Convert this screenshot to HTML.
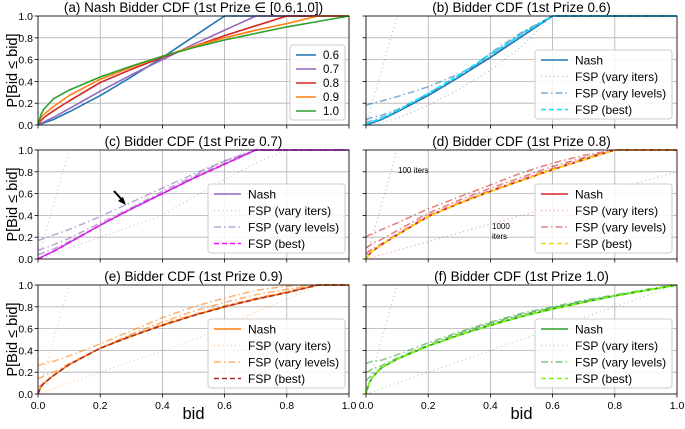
<!DOCTYPE html>
<html><head><meta charset="utf-8"><style>
body{margin:0;background:#fff}
svg{font-family:"Liberation Sans","DejaVu Sans",sans-serif}
</style></head><body>
<svg id="s" width="685" height="424" viewBox="0 0 685 424"></svg>
<script>
const bids=[0,.01,.02,.05,.1,.2,.3,.4,.5,.6,.7,.8,.9,1];
const prizeLabels=["0.6","0.7","0.8","0.9","1.0"];
const nash06=[0,.01,.02,.05,.12,.27,.44,.62,.81,1,1,1,1,1];
const nash07=[0,.015,.03,.07,.15,.31,.46,.60,.74,.87,1,1,1,1];
const nash08=[0,.04,.07,.13,.22,.39,.51,.62,.72,.82,.91,1,1,1];
const nash09=[0,.07,.1,.17,.27,.42,.53,.63,.72,.80,.87,.93,1,1];
const nash10=[0,.1,.15,.24,.32,.44,.54,.63,.71,.78,.84,.90,.95,1];
const itersSteep=[0,.1,.2,.5,1,1,1,1,1,1,1,1,1,1];
const itersB=[0,0,.01,.02,.06,.18,.33,.5,.72,1,1,1,1,1];
const itersC=[0,.01,.02,.05,.1,.2,.3,.4,.57,.73,.88,1,1,1];
const itersD=[0,.008,.016,.04,.08,.16,.24,.32,.4,.48,.56,.64,.72,.8];
const itersE=[0,.01,.02,.05,.1,.2,.3,.39,.5,.62,.75,.87,1,1];
const itersF=[0,.01,.02,.05,.1,.2,.3,.4,.5,.6,.7,.8,.9,1];
const levB1=[.18,.19,.2,.22,.26,.35,.47,.62,.84,1,1,1,1,1];
const levB2=[.05,.06,.07,.09,.14,.28,.44,.66,.85,1,1,1,1,1];
const levB3=[.02,.03,.04,.07,.13,.29,.46,.64,.83,1,1,1,1,1];
const bestB=[0,.02,.03,.06,.13,.29,.46,.65,.83,1,1,1,1,1];
const levC1=[.17,.18,.19,.22,.27,.39,.52,.65,.78,.9,1,1,1,1];
const levC2=[.08,.09,.1,.13,.19,.33,.47,.62,.76,.9,1,1,1,1];
const levC3=[.04,.05,.06,.09,.16,.31,.46,.6,.75,.88,1,1,1,1];
const levD1=[.2,.22,.23,.27,.33,.46,.57,.68,.79,.88,.95,1,1,1];
const levD2=[.1,.12,.14,.18,.26,.42,.54,.65,.75,.85,.93,1,1,1];
const levD3=[.05,.07,.09,.14,.23,.4,.52,.63,.73,.83,.92,1,1,1];
const levE1=[.26,.27,.28,.3,.35,.46,.58,.7,.8,.88,.95,.99,1,1];
const levE2=[.14,.15,.17,.2,.28,.42,.55,.66,.76,.84,.91,.96,1,1];
const levE3=[.06,.08,.11,.17,.27,.42,.54,.64,.73,.81,.88,.94,1,1];
const levF1=[.28,.29,.3,.31,.36,.47,.57,.66,.74,.8,.86,.91,.96,1];
const levF2=[.2,.21,.23,.26,.33,.45,.56,.65,.73,.79,.85,.9,.95,1];
const levF3=[.12,.15,.18,.24,.32,.44,.55,.64,.72,.79,.85,.9,.95,1];
const ticks=[0,.2,.4,.6,.8,1];
const tickLabels=["0.0","0.2","0.4","0.6","0.8","1.0"];

const S=document.getElementById('s');const NS='http://www.w3.org/2000/svg';
function mk(t,a,p){const e=document.createElementNS(NS,t);for(const k in a)e.setAttribute(k,a[k]);(p||S).appendChild(e);return e;}
const cols={b:['#1f77b4','#00e8ff'],c:['#9467bd','#ff00ff'],d:['#d62728','#ffd700'],e:['#ff7f0e','#a52a2a'],f:['#2ca02c','#7cfc00']};
const nashCols=['#1f77b4','#9467bd','#d62728','#ff7f0e','#2ca02c'];
const panels=[
 {id:'a',x0:38,x1:349,y0:16,y1:125,title:'(a) Nash Bidder CDF (1st Prize \u2208 [0.6,1.0])'},
 {id:'b',x0:366,x1:677,y0:16,y1:125,title:'(b) Bidder CDF (1st Prize 0.6)',nash:nash06,it:[itersSteep,itersB],lv:[levB1,levB2,levB3],best:bestB},
 {id:'c',x0:38,x1:349,y0:150,y1:259,title:'(c) Bidder CDF (1st Prize 0.7)',nash:nash07,it:[itersSteep,itersC],lv:[levC1,levC2,levC3],best:nash07},
 {id:'d',x0:366,x1:677,y0:150,y1:259,title:'(d) Bidder CDF (1st Prize 0.8)',nash:nash08,it:[itersSteep,itersD],lv:[levD1,levD2,levD3],best:nash08},
 {id:'e',x0:38,x1:349,y0:285,y1:394,title:'(e) Bidder CDF (1st Prize 0.9)',nash:nash09,it:[itersSteep,itersE],lv:[levE1,levE2,levE3],best:nash09},
 {id:'f',x0:366,x1:677,y0:285,y1:394,title:'(f) Bidder CDF (1st Prize 1.0)',nash:nash10,it:[itersSteep,itersF],lv:[levF1,levF2,levF3],best:nash10}];
panels.forEach((p,pi)=>{
 const g=mk('g',{});
 
 
 const X=v=>p.x0+v*(p.x1-p.x0),Y=v=>p.y1-v*(p.y1-p.y0);
 const left=(pi%2==0),bottom=(pi>=4);
 ticks.forEach((t,i)=>{
  mk('line',{x1:X(t),x2:X(t),y1:p.y0,y2:p.y1,stroke:'#b0b0b0','stroke-width':0.8},g);
  mk('line',{x1:p.x0,x2:p.x1,y1:Y(t),y2:Y(t),stroke:'#b0b0b0','stroke-width':0.8},g);
  mk('line',{x1:p.x0-3.5,x2:p.x0,y1:Y(t),y2:Y(t),stroke:'#000','stroke-width':0.8},g);
  mk('line',{x1:X(t),x2:X(t),y1:p.y1,y2:p.y1+3.5,stroke:'#000','stroke-width':0.8},g);
  if(left){const tl=mk('text',{x:p.x0-5,y:Y(t)+4,'font-size':10.5,'text-anchor':'end'},g);tl.textContent=tickLabels[i];
   }
  if(bottom){const tl=mk('text',{x:X(t),y:p.y1+15,'font-size':10.5,'text-anchor':'middle'},g);tl.textContent=tickLabels[i];
   }
 });
 const path=(arr,c,w,da,op,name)=>{const d=arr.map((v,i)=>(i?'L':'M')+X(bids[i]).toFixed(1)+','+Y(v).toFixed(1)).join('');
  const e=mk('path',{d:d,fill:'none',stroke:c,'stroke-width':w,'stroke-dasharray':da||'none',opacity:op,'stroke-linejoin':'round'},g);
  };
 let legend;
 if(p.id==='a'){
  [nash06,nash07,nash08,nash09,nash10].forEach((s,i)=>path(s,nashCols[i],1.6,null,1,'nash-line-'+prizeLabels[i]));
  legend=prizeLabels.map((l,i)=>[l,nashCols[i],null,1]);
 }else{
  const [nc,bc]=cols[p.id];
  p.it.forEach((s,i)=>path(s,nc,1.3,'1.2,3',0.35,'fsp-vary-iters-line'));
  p.lv.forEach((s,i)=>path(s,nc,1.5,'7,3,1.5,3',0.6,'fsp-vary-levels-line'));
  path(p.nash,nc,1.6,null,1,'nash-line');
  path(p.best,bc,1.6,'5,3',1,'fsp-best-line');
  legend=[['Nash',nc,null,1],['FSP (vary iters)',nc,'1.2,3',0.35],['FSP (vary levels)',nc,'7,3,1.5,3',0.6],['FSP (best)',bc,'5,3',1]];
 }
 mk('rect',{x:p.x0,y:p.y0,width:p.x1-p.x0,height:p.y1-p.y0,fill:'none',stroke:'#000','stroke-width':0.8},g);
 const t=mk('text',{x:(p.x0+p.x1)/2,y:p.y0-4,'font-size':13.5,'text-anchor':'middle'},g);t.textContent=p.title;
 
 const lg=mk('g',{},g);
 
 
 if(p.id==='a'){
  mk('rect',{x:290,y:45,width:55,height:75,rx:3,fill:'#fff','fill-opacity':0.85,stroke:'#ccc'},lg);
  legend.forEach((l,i)=>{const y=55+i*14;mk('line',{x1:296,x2:316,y1:y,y2:y,stroke:l[1],'stroke-width':1.6},lg);
   const tt=mk('text',{x:323,y:y+4,'font-size':11.5},lg);tt.textContent=l[0];
   });
 }else{
  const bx=left?208:535,by=p.y0+34;
  mk('rect',{x:bx,y:by,width:137,height:69,rx:3,fill:'#fff','fill-opacity':0.85,stroke:'#ccc'},lg);
  legend.forEach((l,i)=>{const y=by+10+i*16.5;mk('line',{x1:bx+6,x2:bx+33,y1:y,y2:y,stroke:l[1],'stroke-width':1.6,'stroke-dasharray':l[2]||'none',opacity:l[3]},lg);
   const tt=mk('text',{x:bx+40,y:y+4.5,'font-size':12},lg);tt.textContent=l[0];
   });
 }
 if(left){const yl=mk('text',{x:0,y:0,'font-size':14.5,'text-anchor':'middle',transform:`translate(17,${(p.y0+p.y1)/2}) rotate(-90)`},g);
  yl.textContent='P[Bid \u2264 bid]';}
 if(bottom){const xl=mk('text',{x:(p.x0+p.x1)/2,y:419,'font-size':16.5,'text-anchor':'middle'},g);
  xl.textContent='bid';}
});
const a1=mk('text',{x:398,y:173,'font-size':8});a1.textContent='100 iters';

const a2=mk('text',{x:492,y:229,'font-size':8});a2.textContent='1000';

const a3=mk('text',{x:492,y:239,'font-size':8});a3.textContent='iters';

const ar=mk('line',{x1:114,y1:191,x2:123,y2:201,stroke:'#000','stroke-width':2});

const ah=mk('polygon',{points:'126,205 118,201 123,197',fill:'#000'});

</script>
</body></html>
